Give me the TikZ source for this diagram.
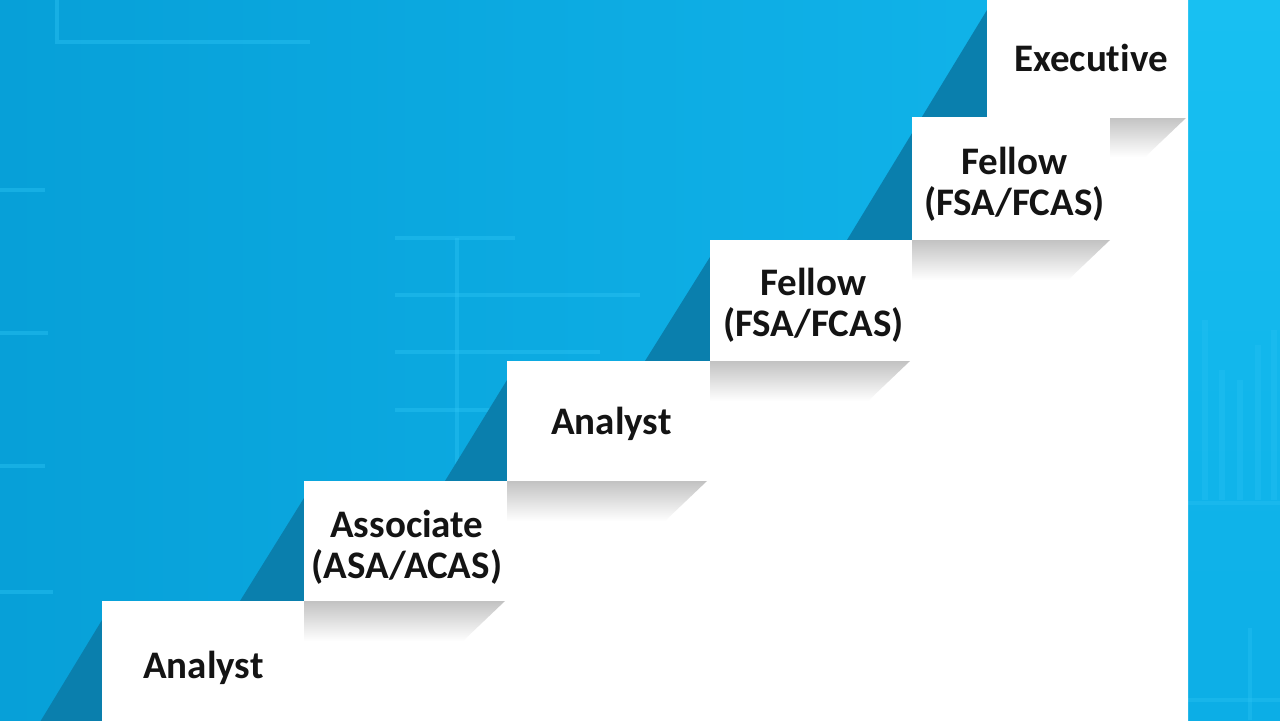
\documentclass[tikz,border=0pt]{standalone}
\usepackage{fontspec}
\setmainfont{Carlito}[Ligatures=NoCommon]
\definecolor{bgA}{HTML}{07A0D8}
\definecolor{bgB}{HTML}{12B6EC}
\definecolor{stripA}{HTML}{18C0F2}
\definecolor{stripB}{HTML}{0CAEE6}
\definecolor{darkblue}{HTML}{0A7FAD}
\definecolor{faintblue}{HTML}{2CC4F4}
\definecolor{shgray}{HTML}{C2C2C2}
\definecolor{textdark}{HTML}{141414}
\newcommand\cardtextfont{\fontsize{19.5}{20.5}\selectfont\bfseries}
\tikzset{
  card/.style={fill=white, inner sep=0pt, anchor=north west},
  cardtext/.style={inner sep=0pt, align=center, font=\cardtextfont, text=textdark},
  shadowband/.style={top color=shgray, bottom color=white},
  darktri/.style={fill=darkblue},
  faint/.style={draw=faintblue, line width=2.2pt, opacity=0.42},
}
\begin{document}
\begin{tikzpicture}[x=0.5pt,y=-0.5pt]
\useasboundingbox (0,0) rectangle (1280,720);
% background
\fill[left color=bgA, right color=bgB] (0,0) rectangle (1188,720);
\fill[top color=stripA, bottom color=stripB] (1188,0) rectangle (1280,720);
% faint decorations
\draw[faint] (57,0) -- (57,42) -- (310,42);
\draw[faint] (0,190) -- (45,190);
\draw[faint] (0,333) -- (48,333);
\draw[faint] (0,466) -- (45,466);
\draw[faint] (0,592) -- (53,592);
\draw[faint] (395,238) -- (515,238);
\draw[faint] (395,295) -- (640,295);
\draw[faint] (395,352) -- (600,352);
\draw[faint] (395,410) -- (560,410);
\draw[faint] (457,238) -- (457,470);
\foreach \bx/\by in {1205/320,1222/370,1240/380,1258/345,1274/330}
  \draw[faint, line width=3pt, opacity=0.3] (\bx,\by) -- (\bx,500);
\draw[faint, opacity=0.35] (1188,503) -- (1280,503);
\draw[faint, opacity=0.35] (1250,720) -- (1250,628);
\draw[faint, opacity=0.35] (1188,700) -- (1280,700);
% dark triangles behind the risers
\fill[darktri] (40,722) -- (102,722) -- (102,620) -- cycle;
\fill[darktri] (240,601) -- (304,601) -- (304,498) -- cycle;
\fill[darktri] (445,481) -- (507,481) -- (507,380) -- cycle;
\fill[darktri] (645,361) -- (710,361) -- (710,257) -- cycle;
\fill[darktri] (847,240) -- (912,240) -- (912,117) -- (987,117) -- (987,10) -- cycle;
% white staircase body
\fill[white] (102,722) -- (102,601) -- (304,601) -- (304,481) -- (507,481)
  -- (507,361) -- (710,361) -- (710,240) -- (912,240) -- (912,117)
  -- (987,117) -- (987,-2) -- (1188,-2) -- (1188,722) -- cycle;
% shadows under the cards
\foreach \sx/\sy/\sw in {304/601/201, 507/481/200, 710/361/200, 912/240/198, 987/117/200}
  \shade[shadowband] (\sx,\sy) -- ({\sx+\sw},\sy) -- ({\sx+\sw-42},{\sy+40}) -- (\sx,{\sy+40}) -- cycle;
% cards
\node[card, minimum width=101pt, minimum height=60.5pt] (s1) at (102,601) {};
\node[card, minimum width=100.5pt, minimum height=60pt] (s2) at (304,481) {};
\node[card, minimum width=100pt, minimum height=60pt] (s3) at (507,361) {};
\node[card, minimum width=100pt, minimum height=60.5pt] (s4) at (710,240) {};
\node[card, minimum width=99pt, minimum height=61.5pt] (s5) at (912,117) {};
\node[card, minimum width=100.5pt, minimum height=59.5pt] (s6) at (987,-1) {};
% labels
\node[cardtext] (t1) at ([yshift=-2.75pt]s1.center) {Analyst};
\node[cardtext] (t2) at ([xshift=1pt,yshift=-2.75pt]s2.center) {Associate\\(ASA/ACAS)};
\node[cardtext] (t3) at ([xshift=2pt,yshift=-1pt]s3.center) {Analyst};
\node[cardtext] (t4) at ([xshift=1.5pt,yshift=-2pt]s4.center) {Fellow\\(FSA/FCAS)};
\node[cardtext] (t5) at ([xshift=1.5pt,yshift=-2.5pt]s5.center) {Fellow\\(FSA/FCAS)};
\node[cardtext] (t6) at ([xshift=1.5pt,yshift=0.5pt]s6.center) {Executive};
\end{tikzpicture}
\end{document}
